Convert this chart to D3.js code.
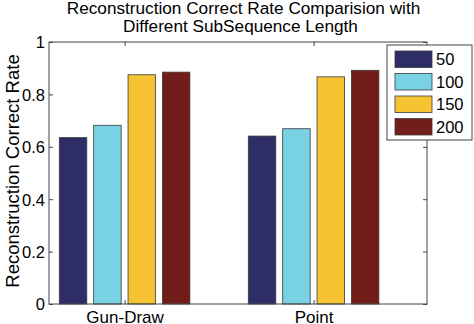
<!DOCTYPE html>
<html lang="en">
    <head>
        <meta charset="utf-8">
        <title>Reconstruction Correct Rate</title>
        <script type="text/javascript" src="https://d3js.org/d3.v7.min.js"></script>
        <style type="text/css">
            body { margin: 0; background: #fff; }
            text { font-family: "Liberation Sans", Arial, sans-serif; fill: #000; }
        </style>
    </head>
    <body>
        <script type="text/javascript">

        // data
        const categories = ["Gun-Draw", "Point"];
        const series = ["50", "100", "150", "200"];
        const values50  = [0.635, 0.641];
        const values100 = [0.682, 0.669];
        const values150 = [0.875, 0.867];
        const values200 = [0.885, 0.892];
        const yTicks = [0, 0.2, 0.4, 0.6, 0.8, 1];
        const colors = ["#2f2d68", "#78d2e3", "#f6c433", "#731d1b"];

        const width = 474;
        const height = 324;
        const plotL = 49, plotR = 427, plotT = 42, plotB = 304;

        const allValues = [values50, values100, values150, values200];

        const xScale = d3.scaleLinear()
                        .domain([0.6, 2.6])
                        .range([plotL, plotR]);

        // bar offsets inside a group (data units, MATLAB style)
        const groupWidth = Math.min(0.8, series.length / (series.length + 1.5));
        const offset = d3.scaleBand()
                        .domain(series)
                        .range([-groupWidth / 2, groupWidth / 2])
                        .paddingInner(0.2)
                        .paddingOuter(0.1);

        const yScale = d3.scaleLinear()
                        .domain([0, 1])
                        .range([plotB, plotT]);

        const svg = d3.select("body")
                    .append("svg")
                    .attr("width", width)
                    .attr("height", height);

        // bars
        const bars = [];
        categories.forEach((c, ci) => {
            series.forEach((s, si) => {
                bars.push({cat: ci + 1, s: s, si: si, v: allValues[si][ci]});
            });
        });

        const bw = xScale(offset.bandwidth()) - xScale(0);
        svg.selectAll("rect.bar")
            .data(bars)
            .enter()
            .append("rect")
            .attr("class", "bar")
            .attr("x", d => xScale(d.cat + offset(d.s)))
            .attr("y", d => yScale(d.v))
            .attr("width", bw)
            .attr("height", d => yScale(0) - yScale(d.v))
            .attr("fill", d => colors[d.si])
            .attr("stroke", "#3a3a3a")
            .attr("stroke-width", 0.8);

        // box
        svg.append("rect")
            .attr("x", plotL)
            .attr("y", plotT)
            .attr("width", plotR - plotL)
            .attr("height", plotB - plotT)
            .attr("fill", "none")
            .attr("stroke", "#444")
            .attr("stroke-width", 1);

        // axes with inward ticks (matlab look)
        const leftAxis = d3.axisLeft(yScale).tickValues(yTicks).tickSize(-4).tickPadding(4)
                            .tickFormat(d => d3.format("")(d));
        const rightAxis = d3.axisRight(yScale).tickValues(yTicks).tickSize(-4).tickFormat("");
        const bottomAxis = d3.axisBottom(xScale).tickValues([1, 2]).tickSize(-4).tickPadding(7)
                            .tickFormat((d, i) => categories[i]);
        const topAxis = d3.axisTop(xScale).tickValues([1, 2]).tickSize(-4).tickFormat("");

        const gl = svg.append("g").attr("transform", "translate(" + plotL + ",0)").call(leftAxis);
        const gr = svg.append("g").attr("transform", "translate(" + plotR + ",0)").call(rightAxis);
        const gb = svg.append("g").attr("transform", "translate(0," + plotB + ")").call(bottomAxis);
        const gt = svg.append("g").attr("transform", "translate(0," + plotT + ")").call(topAxis);

        [gl, gr, gb, gt].forEach(g => {
            g.select(".domain").remove();
            g.selectAll("line").attr("stroke", "#444");
            g.selectAll("text")
                .style("font-family", "'Liberation Sans', Arial, sans-serif")
                .style("font-size", "16.5px")
                .attr("fill", "#000");
        });
        gl.selectAll("text").attr("dy", "0.36em");
        gb.selectAll("text").attr("dy", "0.71em").style("font-size", "17px");

        // y label
        svg.append("text")
            .attr("transform", "translate(19," + ((plotT + plotB) / 2 - 2) + ") rotate(-90)")
            .attr("text-anchor", "middle")
            .style("font-size", "18.5px")
            .text("Reconstruction Correct Rate");

        // title
        const title = svg.append("text")
            .attr("text-anchor", "middle")
            .style("font-size", "17.2px");
        title.append("tspan").attr("x", 243.5).attr("y", 13.5).text("Reconstruction Correct Rate Comparision with");
        title.append("tspan").attr("x", 240.5).attr("y", 31.5).text("Different SubSequence Length");

        // legend
        const legend = svg.append("g");
        legend.append("rect")
            .attr("x", 387).attr("y", 45)
            .attr("width", 85).attr("height", 95)
            .attr("fill", "#fff")
            .attr("stroke", "#444");
        const items = legend.selectAll("g.item")
            .data(series)
            .enter()
            .append("g")
            .attr("class", "item")
            .attr("transform", (d, i) => "translate(395," + (51 + i * 22.5) + ")");
        items.append("rect")
            .attr("width", 37).attr("height", 16.5)
            .attr("fill", (d, i) => colors[i])
            .attr("stroke", "#3a3a3a")
            .attr("stroke-width", 0.8);
        items.append("text")
            .attr("x", 41).attr("y", 8.5).attr("dy", "0.36em")
            .style("font-size", "16.5px")
            .text(d => d);

        </script>
    </body>
</html>
